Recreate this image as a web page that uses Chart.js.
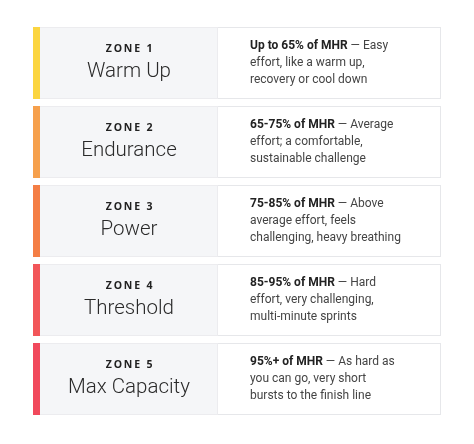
<!DOCTYPE html>
<html>
<head>
<meta charset="utf-8">
<script src="https://cdn.jsdelivr.net/npm/chart.js@4"></script>
<style>
  html, body { margin: 0; padding: 0; background: #fff; }
  #wrap { width: 474px; height: 444px; }
</style>
</head>
<body>
<div id="wrap"><canvas id="zones"></canvas></div>
<script>
// --- data ---
const zoneLabels = ['ZONE 1', 'ZONE 2', 'ZONE 3', 'ZONE 4', 'ZONE 5'];
const zoneNames = ['Warm Up', 'Endurance', 'Power', 'Threshold', 'Max Capacity'];
const zoneRanges = ['Up to 65% of MHR', '65-75% of MHR', '75-85% of MHR', '85-95% of MHR', '95%+ of MHR'];
const zoneLine1 = [' — Easy', ' — Average', ' — Above', ' — Hard', ' — As hard as'];
const zoneLine2 = ['effort, like a warm up,', 'effort; a comfortable,', 'average effort, feels', 'effort, very challenging,', 'you can go, very short'];
const zoneLine3 = ['recovery or cool down', 'sustainable challenge', 'challenging, heavy breathing', 'multi-minute sprints', 'bursts to the finish line'];
const zoneColors = ['#fbd540', '#f6a04c', '#f47e45', '#f25659', '#f1495c'];

// --- layout of a card (stripe / title panel / text panel widths) ---
const STRIPE = 7, PANEL = 178, TEXT = 223;

const cardText = {
  id: 'cardText',
  afterDatasetsDraw(chart) {
    const c = chart.ctx;
    const y = chart.scales.y, x = chart.scales.x;
    const midX = x.getPixelForValue(STRIPE + PANEL / 2);
    const textX = x.getPixelForValue(STRIPE + PANEL) + 32;
    c.save();
    zoneLabels.forEach((lab, i) => {
      const cy = y.getPixelForValue(i);
      c.textAlign = 'center';
      c.textBaseline = 'middle';
      c.fillStyle = '#222';
      c.font = '700 10.5px "Open Sans"';
      c.letterSpacing = '1.8px';
      c.fillText(lab, midX + 1, cy - 14);
      c.letterSpacing = '0px';
      c.font = '300 20.5px Roboto';
      c.fillStyle = '#2a2a2a';
      c.fillText(zoneNames[i], midX, cy + 9);

      c.textAlign = 'left';
      c.font = '700 12px Roboto';
      c.fillStyle = '#222';
      c.fillText(zoneRanges[i], textX, cy - 17);
      const w = c.measureText(zoneRanges[i]).width;
      c.font = '400 12px Roboto';
      c.fillStyle = '#444';
      c.fillText(zoneLine1[i], textX + w, cy - 17);
      c.fillText(zoneLine2[i], textX, cy);
      c.fillText(zoneLine3[i], textX, cy + 17);
    });
    c.restore();
  }
};

new Chart(document.getElementById('zones'), {
  type: 'bar',
  data: {
    labels: zoneLabels,
    datasets: [
      { data: zoneLabels.map(() => STRIPE), backgroundColor: zoneColors, borderWidth: 0 },
      { data: zoneLabels.map(() => PANEL), backgroundColor: '#f5f6f8', borderColor: '#ececef', borderWidth: 1, borderSkipped: 'left' },
      { data: zoneLabels.map(() => TEXT), backgroundColor: '#ffffff', borderColor: '#e6e7ea', borderWidth: 1, borderSkipped: 'left' }
    ]
  },
  options: {
    indexAxis: 'y',
    responsive: true,
    maintainAspectRatio: false,
    animation: false,
    layout: { padding: { left: 33, right: 33, top: 23.5, bottom: 25.5 } },
    datasets: { bar: { barPercentage: 0.911, categoryPercentage: 1 } },
    plugins: { legend: { display: false }, tooltip: { enabled: false } },
    scales: {
      x: { stacked: true, display: false, min: 0, max: STRIPE + PANEL + TEXT },
      y: { stacked: true, display: false }
    }
  },
  plugins: [cardText]
});
</script>
</body>
</html>
